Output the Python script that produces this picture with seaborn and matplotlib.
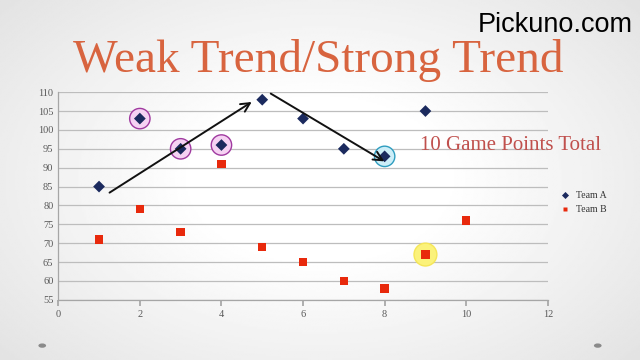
import numpy as np
import pandas as pd
import matplotlib
matplotlib.use("Agg")
import matplotlib.pyplot as plt
import seaborn as sns
from matplotlib.patches import Circle, Ellipse

# ---- data ----
game_a = [1, 2, 3, 4, 5, 6, 7, 8, 9]
points_a = [85, 103, 95, 96, 108, 103, 95, 93, 105]
game_b = [1, 2, 3, 4, 5, 6, 7, 8, 9, 10]
points_b = [71, 79, 73, 91, 69, 65, 60, 58, 67, 76]
x_ticks = [0, 2, 4, 6, 8, 10, 12]
y_ticks = [55, 60, 65, 70, 75, 80, 85, 90, 95, 100, 105, 110]
title = "Weak Trend/Strong Trend"
note = "10 Game Points Total"

df = pd.DataFrame({
    "Game": game_a + game_b,
    "Points": points_a + points_b,
    "Team": ["Team A"] * len(game_a) + ["Team B"] * len(game_b),
})

sns.set_theme(style="white")
plt.rcParams["font.family"] = ["Liberation Serif", "DejaVu Serif"]

fig = plt.figure(figsize=(6.4, 3.6), dpi=100)

# slide background gradient
bg = fig.add_axes([0, 0, 1, 1], zorder=-10)
xx = np.linspace(-1, 1, 400)
yy = np.linspace(-1, 1, 225)
X, Y = np.meshgrid(xx, yy)
R = np.sqrt((X * 0.9) ** 2 + (Y * 0.8) ** 2)
img = 1.0 - 0.13 * np.clip(R - 0.35, 0, None)
bg.imshow(img, cmap="gray", vmin=0, vmax=1, aspect="auto", extent=[0, 1, 0, 1])
bg.set_axis_off()

ax = fig.add_axes([0.091, 0.167, 0.765, 0.577])
ax.patch.set_alpha(0)

sns.scatterplot(
    data=df, x="Game", y="Points", hue="Team", style="Team",
    markers={"Team A": "D", "Team B": "s"},
    palette={"Team A": "#1b2a5e", "Team B": "#e8290c"},
    s=36, edgecolor="none", ax=ax, zorder=3, legend=True,
)

ax.set_xlim(0, 12)
ax.set_ylim(55, 110)
ax.set_xticks(x_ticks)
ax.set_yticks(y_ticks)
ax.set_xlabel("")
ax.set_ylabel("")
ax.yaxis.grid(True, color="#bdbdbd", linewidth=0.9)
ax.xaxis.grid(False)
for s in ["top", "right"]:
    ax.spines[s].set_visible(False)
for s in ["left", "bottom"]:
    ax.spines[s].set_color("#a6a6a6")
    ax.spines[s].set_linewidth(0.9)
ax.tick_params(axis="both", labelsize=7.5, colors="#595959", length=0)
ax.tick_params(axis="x", bottom=True, length=4, color="#a6a6a6", direction="out")
ax.set_axisbelow(True)

# highlight circles
ew, eh = 0.5, 5.4
for (cx, cy) in [(2, 103), (3, 95), (4, 96)]:
    ax.add_patch(Ellipse((cx, cy), ew, eh, facecolor="#f6d2f3", edgecolor="#a03aa0",
                         linewidth=1.0, zorder=2))
ax.add_patch(Ellipse((8, 93), ew, eh, facecolor="#cdeef8", edgecolor="#2e9dbf",
                     linewidth=1.0, zorder=2))
ax.add_patch(Ellipse((9, 67), ew * 1.12, eh * 1.12, facecolor="#fbf27a", edgecolor="#f5e658",
                     linewidth=1.0, zorder=2))

# trend arrows
ax.annotate("", xy=(4.8, 107.8), xytext=(1.2, 83),
            arrowprops=dict(arrowstyle="->", color="#111111", lw=1.4,
                            mutation_scale=16), zorder=4)
ax.annotate("", xy=(8.05, 91.3), xytext=(5.15, 110),
            arrowprops=dict(arrowstyle="->", color="#111111", lw=1.4,
                            mutation_scale=16), zorder=4, annotation_clip=False)

# legend
leg = ax.legend(loc="upper left", bbox_to_anchor=(1.0, 0.56), frameon=False,
                fontsize=7, handletextpad=0.1, markerscale=0.6,
                labelspacing=0.5, borderaxespad=0.4)
for t in leg.get_texts():
    t.set_color("#333333")

# slide texts
fig.text(0.497, 0.80, title, ha="center", va="baseline", fontsize=34,
         color="#d8643f")
fig.text(0.656, 0.595, note, ha="left", va="center", fontsize=15,
         color="#c0504d", zorder=6)
fig.text(0.988, 0.91, "Pickuno.com", ha="right", va="baseline", fontsize=19.5,
         color="black", family=["Liberation Sans Narrow", "Liberation Sans", "DejaVu Sans"])

# decorative slide dots
for px in [0.066, 0.934]:
    fig.patches.append(Circle((px, 0.04), 0.006, transform=fig.transFigure,
                              facecolor="#8a8a8a", edgecolor="none"))

fig.savefig("out.png", dpi=100)
